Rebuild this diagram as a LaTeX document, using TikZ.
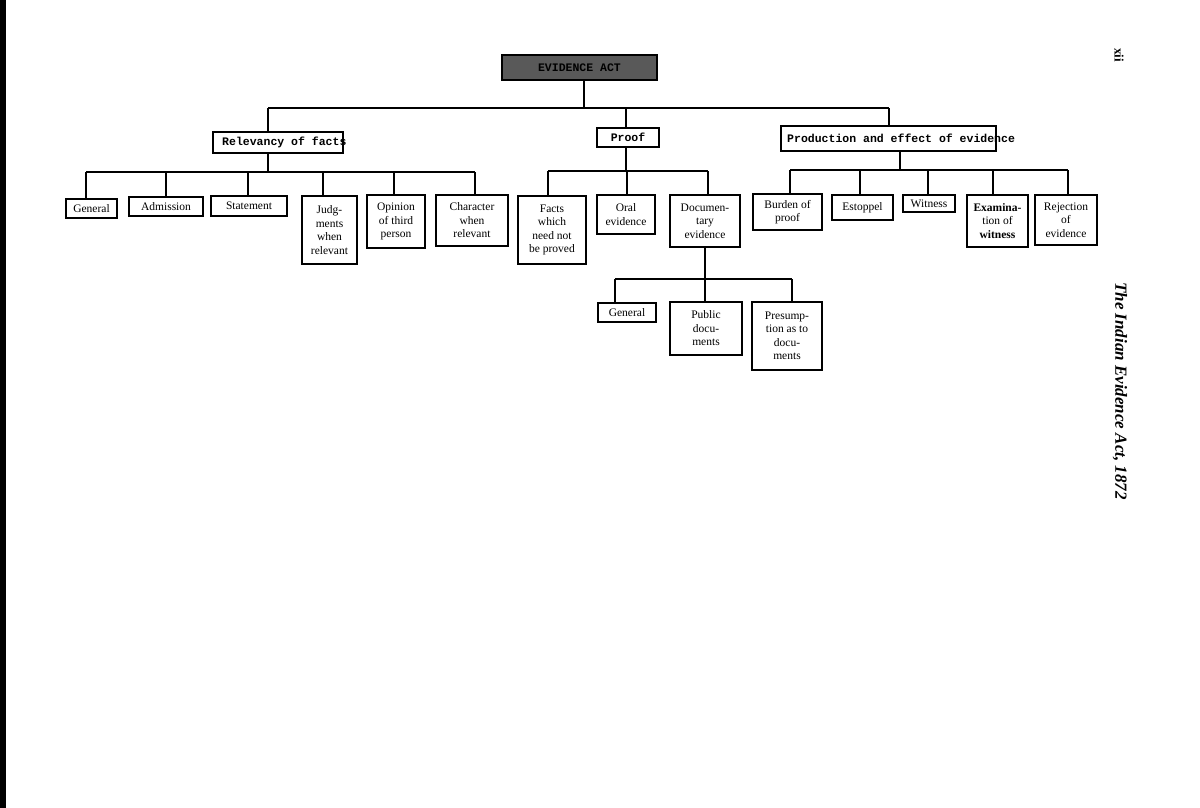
\documentclass[tikz,border=0pt]{standalone}
\usepackage{fontspec}
\setmainfont{Liberation Serif}
\newfontfamily\mono{Liberation Mono}
\begin{document}
\begin{tikzpicture}[x=1pt,y=-1pt,
  bx/.style={draw,line width=1.4pt,inner sep=0pt,align=center,font=\fontsize{11.5}{13.5}\selectfont},
  ln/.style={line width=1.3pt}]
\useasboundingbox (0,0) rectangle (1200,808);
\fill[black] (0,0) rectangle (6,808);
\newcommand\bx[6]{\node[bx,minimum width={#4-#2},minimum height={#5-#3}] (#1) at ({(#2+#4)/2},{(#3+#5)/2}) {#6};}
\node[draw,line width=1.4pt,fill=black!65,inner sep=0pt,minimum width=155,minimum height=25,font=\mono\bfseries\fontsize{11.5}{12}\selectfont,text=black] (ea) at (579.5,67.5) {EVIDENCE ACT};
\node[draw,line width=1.4pt,inner sep=0pt,minimum width=130,minimum height=21] (rel) at (278,142.5) {};
\node[font=\mono\bfseries\fontsize{11.5}{12}\selectfont,anchor=west,inner sep=0pt] (relt) at (222,142) {Relevancy of facts};
\node[draw,line width=1.4pt,inner sep=0pt,minimum width=62,minimum height=19,font=\mono\bfseries\fontsize{11.5}{12}\selectfont] (pr) at (628,137.5) {Proof};
\node[draw,line width=1.4pt,inner sep=0pt,minimum width=215,minimum height=25] (pe) at (888.5,138.5) {};
\node[font=\mono\bfseries\fontsize{11.5}{12}\selectfont,anchor=west,inner sep=0pt] (pet) at (787,138) {Production and effect of evidence};
\bx{g1}{66}{199}{117}{218}{General}
\bx{ad}{129}{197}{203}{216}{Admission}
\bx{st}{211}{196}{287}{216}{Statement}
\bx{ju}{302}{196}{357}{264}{Judg-\\ments\\when\\relevant}
\bx{op}{367}{195}{425}{248}{Opinion\\of third\\person}
\bx{ch}{436}{195}{508}{246}{Character\\when\\relevant}
\bx{fa}{518}{196}{586}{264}{Facts\\which\\need not\\be proved}
\bx{or}{597}{195}{655}{234}{Oral\\evidence}
\bx{do}{670}{195}{740}{247}{Documen-\\tary\\evidence}
\bx{g2}{598}{303}{656}{322}{General}
\bx{pu}{670}{302}{742}{355}{Public\\docu-\\ments}
\bx{ps}{752}{302}{822}{370}{Presump-\\tion as to\\docu-\\ments}
\bx{bu}{753}{194}{822}{230}{Burden of\\proof}
\bx{es}{832}{195}{893}{220}{Estoppel}
\bx{wi}{903}{195}{955}{212}{Witness}
\bx{ex}{967}{195}{1028}{247}{\textbf{Examina-}\\tion of\\\textbf{witness}}
\bx{re}{1035}{195}{1097}{245}{Rejection\\of\\evidence}
% connectors
\draw[ln] (584,80) -- (584,108);
\draw[ln] (268,108) -- (889,108);
\draw[ln] (268,108) -- (268,132);
\draw[ln] (626,108) -- (626,128);
\draw[ln] (889,108) -- (889,126);
\draw[ln] (268,153) -- (268,172);
\draw[ln] (86,172) -- (475,172);
\foreach \x/\n in {86/g1,166/ad,248/st,323/ju,394/op,475/ch} \draw[ln] (\x,172) -- (\x,0 |- \n.north);
\draw[ln] (626,147) -- (626,171);
\draw[ln] (548,171) -- (708,171);
\foreach \x/\n in {548/fa,627/or,708/do} \draw[ln] (\x,171) -- (\x,0 |- \n.north);
\draw[ln] (900,151) -- (900,170);
\draw[ln] (790,170) -- (1068,170);
\foreach \x/\n in {790/bu,860/es,928/wi,993/ex,1068/re} \draw[ln] (\x,170) -- (\x,0 |- \n.north);
\draw[ln] (705,247) -- (705,279);
\draw[ln] (615,279) -- (792,279);
\foreach \x/\n in {615/g2,705/pu,792/ps} \draw[ln] (\x,279) -- (\x,0 |- \n.north);
\node[rotate=-90,font=\bfseries\fontsize{13}{14}\selectfont] (pg) at (1119,55) {xii};
\node[rotate=-90,font=\bfseries\itshape\fontsize{17}{19}\selectfont,anchor=west,inner sep=0pt] (tt) at (1120,282) {The Indian Evidence Act, 1872};
\end{tikzpicture}
\end{document}
